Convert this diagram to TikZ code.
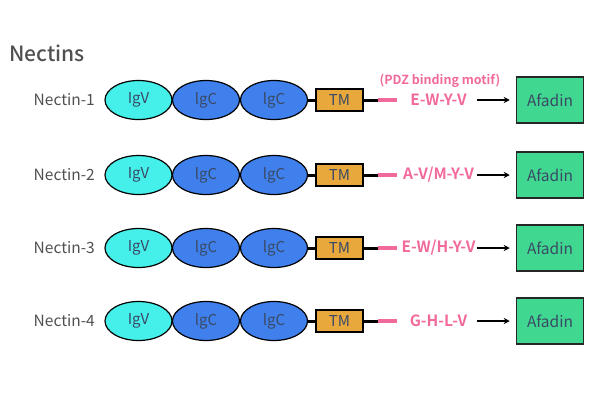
\documentclass[tikz,border=0pt]{standalone}
\usepackage{fontspec}
\setmainfont{Noto Sans CJK SC}[BoldFont={Noto Sans CJK SC Bold}]
\newfontfamily\medfont{Noto Sans CJK SC Medium}
\usetikzlibrary{arrows.meta,shapes.geometric}
\definecolor{labgray}{HTML}{505050}
\definecolor{igvcol}{HTML}{45F0EA}
\definecolor{igccol}{HTML}{3F80EC}
\definecolor{tmcol}{HTML}{E8A83C}
\definecolor{afcol}{HTML}{40D890}
\definecolor{pinkcol}{HTML}{F26A9C}
\definecolor{domtext}{HTML}{3A4A66}
\tikzset{
  rowlabel/.style={anchor=east, text=labgray, font=\fontsize{15.5}{18}\selectfont, inner sep=0pt},
  igdom/.style={ellipse, draw=black, line width=1.2pt, minimum width=67pt, minimum height=39pt, inner sep=0pt, text=domtext, font=\fontsize{15}{17}\selectfont},
  igv/.style={igdom, fill=igvcol},
  igc/.style={igdom, fill=igccol},
  tmbox/.style={draw=black, line width=1.2pt, fill=tmcol, minimum width=47pt, minimum height=22pt, inner sep=0pt, text=domtext, font=\fontsize{15}{17}\selectfont},
  afbox/.style={draw=black!85, line width=1.5pt, fill=afcol, minimum width=67pt, minimum height=46pt, inner sep=0pt, text=domtext, font=\fontsize{15.5}{18}\selectfont},
  motif/.style={text=pinkcol, font=\bfseries\fontsize{15.5}{18}\selectfont, inner sep=0pt},
  tail/.style={line width=3pt, black},
  pinktail/.style={line width=3.5pt, pinkcol},
  toaf/.style={line width=1.2pt, -{Stealth[length=6pt,width=6pt]}, shorten >=6pt},
}
\begin{document}
\begin{tikzpicture}[x=1pt,y=-1pt]
\useasboundingbox (0,0) rectangle (599,400);
\node[anchor=west, text=labgray, font=\medfont\fontsize{21}{24}\selectfont, inner sep=0pt] (title) at (9,53) {Nectins};
\node[text=pinkcol, font=\bfseries\fontsize{12.5}{14}\selectfont, inner sep=0pt] (pdz) at (440,81) {(PDZ binding motif)};
\foreach \i/\y/\m in {1/100/{E-W-Y-V}, 2/175/{A-V/M-Y-V}, 3/248/{E-W/H-Y-V}, 4/321/{G-H-L-V}}{
  \node[rowlabel] (lab\i) at (95,\y) {Nectin-\i};
  \node[igv] (v\i) at (138.5,\y) {IgV};
  \node[igc] (c\i) at (206,\y) {lgC};
  \node[igc] (d\i) at (274,\y) {lgC};
  \node[tmbox] (tm\i) at (339.5,\y) {TM};
  \coordinate (k\i) at (378,\y);
  \coordinate (p\i) at (397,\y);
  \node[motif] (m\i) at (438.5,\y) {\m};
  \coordinate (s\i) at (477,\y);
  \node[afbox] (af\i) at (550,\y) {Afadin};
  \draw[tail] (d\i.east) -- (tm\i.west);
  \draw[tail] (tm\i.east) -- (k\i);
  \draw[pinktail] (k\i) -- (p\i);
  \draw[toaf] (s\i) -- (af\i.west);
}
\end{tikzpicture}
\end{document}
